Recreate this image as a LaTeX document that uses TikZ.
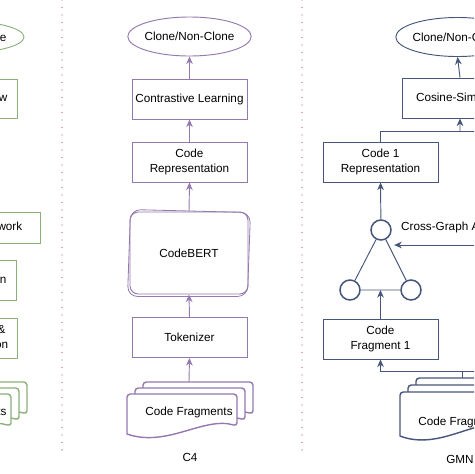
\documentclass[tikz,border=0pt]{standalone}
\usepackage{fontspec}
\setmainfont{Liberation Sans}
\usetikzlibrary{shapes.geometric, arrows.meta, calc, positioning}
\definecolor{cgreen}{HTML}{8DB07B}
\definecolor{cpurple}{HTML}{9479AE}
\definecolor{cblue}{HTML}{46557A}
\definecolor{sepred}{HTML}{C0506E}
\tikzset{
  % passo della pipeline
  box/.style={draw=#1, line width=0.8pt, minimum width=3.45cm, minimum height=1.2cm,
    align=center, fill=white, inner sep=1pt},
  % uscita finale
  outell/.style={ellipse, draw=#1, line width=0.8pt, minimum width=3.7cm, minimum height=1.17cm,
    inner xsep=-0.1cm, inner ysep=0pt, fill=white},
  % frecce e linee
  arr/.style={-{Stealth[length=2.3mm, width=2mm]}, line width=0.8pt, #1},
  arrtwo/.style={{Stealth[length=2.3mm, width=2mm]}-{Stealth[length=2.3mm, width=2mm]}, line width=0.8pt, #1},
  link/.style={line width=0.8pt, #1},
  % nodo del grafo
  gnode/.style={circle, draw=cblue, line width=1.3pt, minimum size=0.6cm, inner sep=0pt, fill=white},
  % separatore puntinato
  sep/.style={sepred, line width=1.1pt, line cap=round, dash pattern=on 0pt off 6.4pt},
  % testo dei frammenti
  doctext/.style={inner sep=0pt, minimum width=3.3cm},
}
\tikzset{
  codedoc/.pic={
    \path[draw, fill=white, line width=1.2pt, pic actions] (0,40) [rounded corners=0.1cm] -- (0,0) -- (110,0) -- (110,32)
      [sharp corners] .. controls (77,22) and (40,54) .. (0,40) -- cycle;
  },
}
\begin{document}
\begin{tikzpicture}[x=0.03cm, y=-0.03cm, every node/.style={font=\fontsize{10}{12.8}\selectfont}]
  \clip (0,0) rectangle (474,474);
  % separatori
  \draw[sep] (62,0) -- (62,455);
  \draw[sep] (302,0) -- (302,455);
  % colonna sinistra
  \node[outell=cgreen, minimum width=3.75cm, minimum height=0.96cm] (out1) at (-38.5,37) {Clone/Non-Clone};
  \node[box=cgreen, minimum width=2.85cm, minimum height=1.17cm] (mf) at (-30.5,98.5) {Matching Flow};
  \node[box=cgreen, minimum width=4.56cm, minimum height=0.93cm] (gnn) at (-36,227.5) {Graph Neural Network};
  \node[box=cgreen, minimum width=3.63cm] (gc) at (-44.5,280) {Graph Construction};
  \node[box=cgreen, minimum width=3.54cm] (ast) at (-42,338) {AST Generation \&\\Flow Augmentation};
  \pic[draw=cgreen] at (-83,382) {codedoc};
  \pic[draw=cgreen] at (-91,388) {codedoc};
  \pic[draw=cgreen] at (-99,394) {codedoc};
  \node[doctext, minimum height=1.8cm] (cf1) at (-37,412) {Code Fragments};
  \draw[arr=cgreen] (cf1.north) -- (ast.south);
  \draw[arr=cgreen] (ast.north) -- (gc.south);
  \draw[arr=cgreen] (gc.north) -- (gnn.south);
  \draw[arr=cgreen] (gnn.north) -- (mf.south);
  \draw[arr=cgreen] (mf.north) -- (out1.south);
  % colonna C4
  \node[outell=cpurple] (out2) at (189.5,36.5) {Clone/Non-Clone};
  \node[box=cpurple] (cl) at (189.5,99) {Contrastive Learning};
  \node[box=cpurple] (rep) at (189.5,162) {Code\\Representation};
  \node[box=cpurple, minimum width=3.54cm, minimum height=2.46cm, rounded corners=0.25cm] (bert) at (189,253) {CodeBERT};
  \draw[cpurple, line width=0.7pt, rounded corners=0.3cm] ([shift={(-2,2)}]bert.south west) -- ([shift={(1,-2)}]bert.north west)
    -- ([shift={(2,1)}]bert.north east) -- ([shift={(-1,2)}]bert.south east) -- cycle;
  \node[box=cpurple] (tok) at (189.5,337.5) {Tokenizer};
  \pic[draw=cpurple] at (143,382) {codedoc};
  \pic[draw=cpurple] at (135,388) {codedoc};
  \pic[draw=cpurple] at (127,394) {codedoc};
  \node[doctext, minimum height=1.8cm] (cf2) at (189,412) {Code Fragments};
  \node (c4) at (190,457) {C4};
  \draw[arr=cpurple] (cf2.north) -- (tok.south);
  \draw[arr=cpurple] (tok.north) -- (bert.south);
  \draw[arr=cpurple] (bert.north) -- (rep.south);
  \draw[arr=cpurple] (rep.north) -- (cl.south);
  \draw[arr=cpurple] (cl.north) -- (out2.south);
  % colonna GMN
  \node[outell=cblue] (out3) at (457.5,37) {Clone/Non-Clone};
  \node[box=cblue] (cos) at (460,98) {Cosine-Similarity};
  \node[box=cblue] (rep1) at (380.5,162) {Code 1\\Representation};
  \node[box=cblue] (rep2) at (539.5,162) {Code 2\\Representation};
  \node[gnode] (g1t) at (381,230) {};
  \node[gnode] (g1l) at (350,290) {};
  \node[gnode] (g1r) at (411,290) {};
  \node[gnode] (g2t) at (539,230) {};
  \node[gnode] (g2l) at (509,290) {};
  \node[gnode] (g2r) at (570,290) {};
  \draw[link=cblue] (g1t) -- (g1l) -- (g1r) -- (g1t);
  \draw[link=cblue] (g2t) -- (g2l) -- (g2r) -- (g2t);
  \node[anchor=west, inner sep=0pt] (cga) at (401,227) {Cross-Graph Attention};
  \node[box=cblue] (frag1) at (380.5,339) {Code\\Fragment 1};
  \node[box=cblue] (frag2) at (539.5,339) {Code\\Fragment 2};
  \pic[draw=cblue, yscale=1.1] at (416,378) {codedoc};
  \pic[draw=cblue, yscale=1.1] at (408,385) {codedoc};
  \pic[draw=cblue, yscale=1.1] at (400,392) {codedoc};
  \node[doctext, minimum height=2.64cm] (cf3) at (462,422) {Code Fragments};
  \node (gmn) at (460,459) {GMN};
  \draw[arr=cblue] (cf3.north) -- ++(0,-6) -| (frag1.south);
  \draw[arr=cblue] (cf3.north) -- ++(0,-6) -| (frag2.south);
  \draw[arr=cblue] (frag1.north) -- (frag1.north |- g1l.center);
  \draw[arr=cblue] (frag2.north) -- (frag2.north |- g2l.center);
  \draw[arr=cblue] (g1t) -- (rep1.south);
  \draw[arr=cblue] (g2t) -- (rep2.south);
  \draw[arrtwo=cblue, shorten >=0.17cm, shorten <=0.17cm] ($(g2t)!0.25!(g2l)$) -- ($(g1t)!0.25!(g1r)$);
  \coordinate (mj) at ($(rep1.north)!0.5!(rep2.north) + (0,-10)$);
  \draw[link=cblue] (rep1.north) -- ++(0,-10) -| (rep2.north);
  \draw[arr=cblue] (mj) -- (cos.south);
  \draw[arr=cblue] (cos.north) -- (out3.south);
\end{tikzpicture}
\end{document}
